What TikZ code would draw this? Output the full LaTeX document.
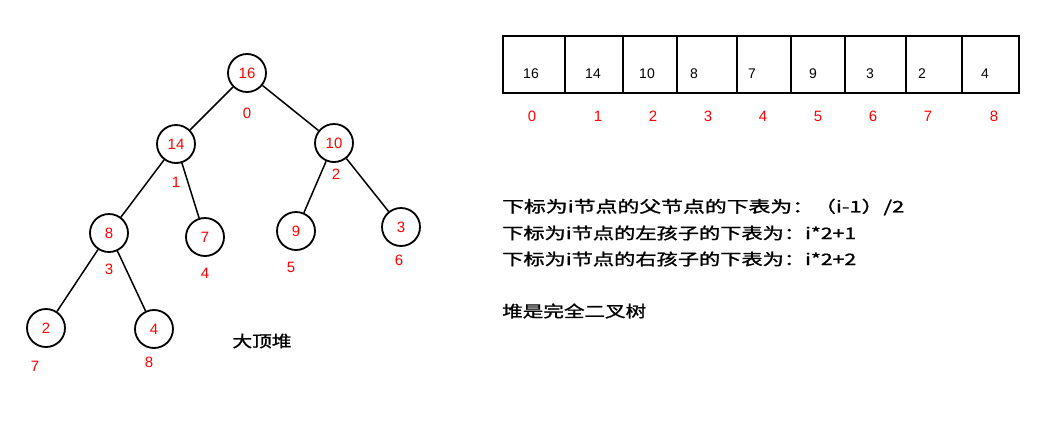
\documentclass[tikz,border=0pt]{standalone}
\usepackage{fontspec}
\setmainfont{Liberation Sans}
\newfontfamily\cjk[FakeBold=1.2]{Noto Sans CJK SC}
\begin{document}
\begin{tikzpicture}[x=1pt,y=-1pt,
  nd/.style={circle,draw,line width=1.8pt,minimum size=38pt,inner sep=0pt,text=red,font=\fontsize{15}{15}\selectfont},
  idx/.style={text=red,font=\fontsize{15}{15}\selectfont},
  val/.style={font=\fontsize{14}{14}\selectfont},
  ed/.style={line width=1.5pt},
  tx/.style={anchor=west,font=\cjk\fontsize{16}{16}\selectfont,inner sep=0pt}]
\useasboundingbox (0,0) rectangle (1055,429);
\node[nd] (n0) at (247,73) {16};
\node[nd] (n1) at (176,144) {14};
\node[nd] (n2) at (334,143) {10};
\node[nd] (n3) at (109,233) {8};
\node[nd] (n4) at (205,237) {7};
\node[nd] (n5) at (296,231) {9};
\node[nd] (n6) at (401,227) {3};
\node[nd] (n7) at (46,328) {2};
\node[nd] (n8) at (154,329) {4};
\draw[ed] (n0)--(n1); \draw[ed] (n0)--(n2);
\draw[ed] (n1)--(n3); \draw[ed] (n1)--(n4);
\draw[ed] (n2)--(n5); \draw[ed] (n2)--(n6);
\draw[ed] (n3)--(n7); \draw[ed] (n3)--(n8);
\node[idx] (i0) at (247,113) {0};
\node[idx] (i1) at (176,182) {1};
\node[idx] (i2) at (336,174) {2};
\node[idx] (i3) at (109,269) {3};
\node[idx] (i4) at (205,273) {4};
\node[idx] (i5) at (291,267) {5};
\node[idx] (i6) at (399,260) {6};
\node[idx] (i7) at (35,366) {7};
\node[idx] (i8) at (149,362) {8};
\node[tx,anchor=center] (big) at (262,341) {\resizebox{59pt}{\height}{大顶堆}};
\draw[line width=1.8pt] (503,36) rectangle (1019,93);
\foreach \x in {565,623,677,737,791,845,906,962} \draw[line width=1.5pt] (\x,36)--(\x,93);
\foreach \v/\x [count=\k] in {16/531,14/593,10/647,8/694,7/752,9/813,3/870,2/922,4/985}
  \node[val] (v\k) at (\x,74) {\v};
\foreach \v/\x [count=\k] in {0/532,1/598,2/653,3/708,4/763,5/818,6/873,7/928,8/994}
  \node[idx] (a\k) at (\x,116) {\v};
\node[tx] (t1) at (502,207) {\resizebox{402pt}{\height}{下标为i节点的父节点的下表为：（i-1）/2}};
\node[tx] (t2) at (502,233) {\resizebox{354pt}{\height}{下标为i节点的左孩子的下表为：i*2+1}};
\node[tx] (t3) at (502,259) {\resizebox{354pt}{\height}{下标为i节点的右孩子的下表为：i*2+2}};
\node[tx] (t4) at (502,311) {\resizebox{144pt}{\height}{堆是完全二叉树}};
\end{tikzpicture}
\end{document}
